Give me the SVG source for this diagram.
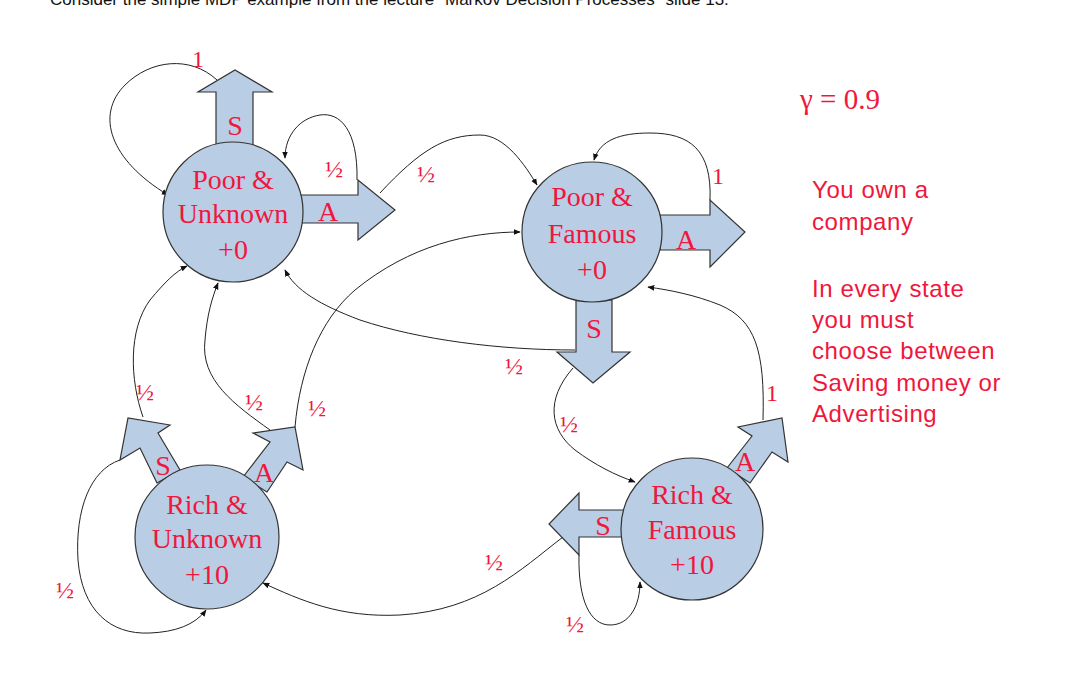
<svg xmlns="http://www.w3.org/2000/svg" width="1081" height="697" viewBox="0 0 1081 697">
<style>
.st{fill:#b9cde5;stroke:#333;stroke-width:1.2}
.c{fill:none;stroke:#222;stroke-width:1;marker-end:url(#ah)}
.n{font-family:"Liberation Serif",serif;font-size:28px;fill:#f0163c;text-anchor:middle}
.l{font-family:"Liberation Serif",serif;font-size:24px;fill:#f0163c}
.r{font-family:"Liberation Sans",sans-serif;font-size:24px;fill:#f0163c;letter-spacing:0.6px}
</style>
<defs><marker id="ah" viewBox="0 0 10 10" refX="9" refY="5" markerWidth="7" markerHeight="7" orient="auto"><path d="M0,1 L10,5 L0,9z" fill="#111"/></marker></defs>
<rect width="1081" height="697" fill="#fff"/>
<text x="50" y="5" font-family="Liberation Sans,sans-serif" font-size="17" fill="#111">Consider the simple MDP example from the lecture "Markov Decision Processes" slide 13.</text>
<g id="connectors">
<path class="c" d="M217,80 C190,55 150,60 125,85 C95,115 110,160 168,195"/>
<path class="c" d="M357,180 C358,130 340,112 320,115 C300,118 285,135 285,158"/>
<path class="c" d="M380,193 C420,150 445,135 480,135 C505,135 525,165 537,185"/>
<path class="c" d="M710,200 C712,150 690,133 650,133 C620,133 600,140 594,160"/>
<path class="c" d="M575,350 C500,350 420,340 360,320 C320,305 295,290 285,270"/>
<path class="c" d="M573,368 C545,400 550,430 575,450 C595,465 615,475 635,482"/>
<path class="c" d="M143,417 C130,380 128,330 150,300 C165,282 175,272 187,266"/>
<path class="c" d="M120,460 C90,470 75,510 78,560 C82,610 110,635 150,633 C175,632 195,625 206,610"/>
<path class="c" d="M270,430 C235,405 200,380 205,340 C207,315 212,298 218,283"/>
<path class="c" d="M295,427 C300,370 320,320 355,290 C410,245 470,232 520,232"/>
<path class="c" d="M563,537 C520,570 480,610 400,615 C340,618 300,600 263,583"/>
<path class="c" d="M579,555 C578,600 590,625 610,625 C630,625 640,605 640,582"/>
<path class="c" d="M763,420 C765,350 755,320 720,305 C695,295 670,290 648,287"/>
</g>
<g id="labels">
<text class="l" x="192" y="67">1</text>
<text class="l" x="325" y="177">½</text>
<text class="l" x="417" y="182">½</text>
<text class="l" x="712" y="184">1</text>
<text class="l" x="505" y="374">½</text>
<text class="l" x="560" y="432">½</text>
<text class="l" x="136" y="400">½</text>
<text class="l" x="56" y="598">½</text>
<text class="l" x="245" y="410">½</text>
<text class="l" x="308" y="416">½</text>
<text class="l" x="485" y="570">½</text>
<text class="l" x="566" y="632">½</text>
<text class="l" x="766" y="401">1</text>
</g>
<g id="pu">
<polygon class="st" points="216,145 216,92 198,92 235,70 272,92 253,92 253,145"/>
<polygon class="st" points="300,195 358,195 358,180 395,210 358,240 358,223 300,223"/>
<circle class="st" cx="233" cy="212" r="70"/>
<text class="n" x="235" y="135">S</text><text class="n" x="328" y="221">A</text>
<text class="n" x="233" y="189">Poor &amp;</text><text class="n" x="233" y="223">Unknown</text><text class="n" x="233" y="259">+0</text>
</g>
<g id="pf">
<polygon class="st" points="660,215 710,215 710,200 745,232 710,267 710,250 660,250"/>
<polygon class="st" points="576,300 576,352 557,352 593,383 630,352 612,352 612,300"/>
<circle class="st" cx="592" cy="232" r="70"/>
<text class="n" x="686" y="249">A</text><text class="n" x="594" y="338">S</text>
<text class="n" x="592" y="206">Poor &amp;</text><text class="n" x="592" y="243">Famous</text><text class="n" x="592" y="279">+0</text>
</g>
<g id="ru">
<polygon class="st" points="157,483 140,448 120,460 128,418 170,425 158,433 180,470"/>
<polygon class="st" points="243,477 270,442 253,433 295,427 303,470 287,462 267,492"/>
<circle class="st" cx="207" cy="537" r="72"/>
<text class="n" x="163" y="475">S</text><text class="n" x="264" y="482">A</text>
<text class="n" x="207" y="514">Rich &amp;</text><text class="n" x="207" y="548">Unknown</text><text class="n" x="207" y="584">+10</text>
</g>
<g id="rf">
<polygon class="st" points="625,510 579,510 579,493 549,524 579,555 579,537 625,537"/>
<polygon class="st" points="727,468 752,436 738,427 782,418 788,462 772,452 750,483"/>
<circle class="st" cx="692" cy="529" r="71"/>
<text class="n" x="603" y="535">S</text><text class="n" x="745" y="471">A</text>
<text class="n" x="692" y="504">Rich &amp;</text><text class="n" x="692" y="539">Famous</text><text class="n" x="692" y="574">+10</text>
</g>
<g id="text">
<text x="800" y="109" font-family="Liberation Serif,serif" font-size="29" fill="#f0163c">γ = 0.9</text>
<text class="r" x="812" y="198">You own a</text>
<text class="r" x="812" y="230">company</text>
<text class="r" x="812" y="297">In every state</text>
<text class="r" x="812" y="328">you  must</text>
<text class="r" x="812" y="359">choose between</text>
<text class="r" x="812" y="391">Saving money or</text>
<text class="r" x="812" y="422">Advertising</text>
</g>
</svg>
